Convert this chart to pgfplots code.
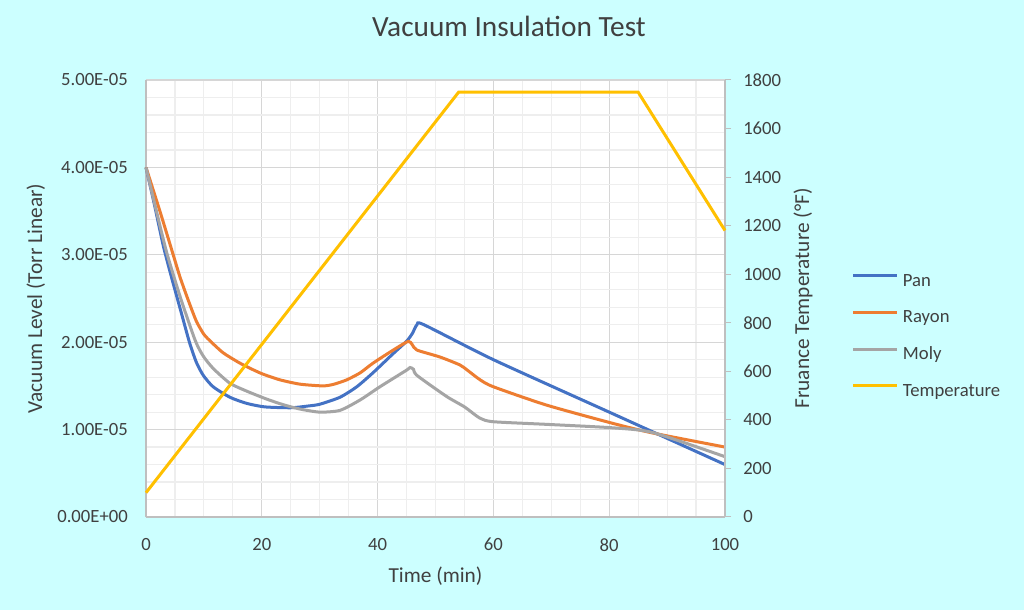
\documentclass[border=0pt]{standalone}
\usepackage{fontspec}
\setmainfont{Carlito}
\usepackage{pgfplots}
\pgfplotsset{compat=1.18}
\definecolor{bg}{RGB}{204,255,255}
\definecolor{pan}{RGB}{68,114,196}
\definecolor{rayon}{RGB}{237,125,49}
\definecolor{moly}{RGB}{165,165,165}
\definecolor{temp}{RGB}{255,192,0}
\definecolor{txt}{RGB}{64,64,64}
\definecolor{gmaj}{RGB}{214,214,214}
\definecolor{gmin}{RGB}{238,238,238}
\definecolor{axisgray}{RGB}{191,191,191}
\pgfplotsset{
  panstyle/.style={color=pan, line width=2.25pt, smooth, tension=0.4},
  rayonstyle/.style={color=rayon, line width=2.25pt, smooth, tension=0.4},
  molystyle/.style={color=moly, line width=2.25pt, smooth, tension=0.4},
  tempstyle/.style={color=temp, line width=2.25pt},
}
\begin{document}
\begin{tikzpicture}
\path[use as bounding box, fill=bg] (-109.5pt,-69.75pt) rectangle (658.5pt,387.75pt);
\begin{axis}[
  at={(0,0)}, anchor=south west,
  scale only axis, width=434.25pt, height=327.75pt,
  axis background/.style={fill=white},
  xmin=0, xmax=100, ymin=0, ymax=5e-5,
  axis x line*=bottom, axis y line*=left,
  axis line style={color=axisgray, line width=1pt, -},
  xtick={0,20,40,60,80,100},
  minor x tick num=3,
  ytick={0,1e-5,2e-5,3e-5,4e-5,5e-5},
  yticklabels={0.00E+00,1.00E-05,2.00E-05,3.00E-05,4.00E-05,5.00E-05},
  minor y tick num=4,
  grid=both,
  major grid style={color=gmaj, line width=0.9pt},
  minor grid style={color=gmin, line width=0.9pt},
  major tick length=0pt, minor tick length=0pt,
  scaled y ticks=false,
  /pgf/number format/assume math mode=true,
  tick label style={font=\fontsize{14}{16}\selectfont, text=txt},
  yticklabel style={anchor=east, inner sep=0pt, xshift=-13.5pt},
  xticklabel style={anchor=north, inner sep=0pt, yshift=-15.75pt},
  xlabel={Time (min)},
  ylabel={Vacuum Level (Torr Linear)},
  label style={font=\fontsize{16}{19}\selectfont, text=txt},
  xlabel style={at={(axis description cs:0.5,-0.14874)}, anchor=base, inner sep=0pt},
  ylabel style={at={(axis description cs:-0.1796,0.5)}, rotate=0, anchor=base, inner sep=0pt},
  title={Vacuum Insulation Test},
  title style={at={(axis description cs:0.627,1.0818)}, anchor=base, inner sep=0pt, font=\fontsize{22}{26}\selectfont, text=txt},
  clip=false,
]
\addplot[panstyle] coordinates {
(0,4.00e-5) (1.5,3.56e-5) (3.0,3.10e-5) (4.5,2.72e-5) (6.0,2.36e-5) (7.5,2.00e-5)
(8.7,1.77e-5) (9.9,1.62e-5) (11.6,1.49e-5) (14.5,1.37e-5) (17.4,1.30e-5)
(20.5,1.26e-5) (25,1.25e-5) (28,1.27e-5) (30,1.29e-5) (33.5,1.37e-5) (36.4,1.49e-5)
(39.2,1.65e-5) (42.7,1.87e-5) (45,2.01e-5) (46,2.10e-5) (46.8,2.20e-5) (48,2.20e-5)
(60,1.80e-5) (80,1.20e-5) (100,0.60e-5)
};
\addplot[rayonstyle] coordinates {
(0,4.00e-5) (2.4,3.50e-5) (4.7,3.00e-5) (5.9,2.74e-5) (7.3,2.48e-5) (8.7,2.24e-5)
(10,2.09e-5) (11.3,2.00e-5) (13.3,1.88e-5) (15.7,1.78e-5) (17.4,1.72e-5) (20,1.64e-5) (23.1,1.57e-5)
(26.6,1.52e-5) (30.6,1.50e-5)
(32.5,1.52e-5) (34.7,1.57e-5) (37,1.65e-5) (39.2,1.76e-5) (42.7,1.91e-5) (45.3,2.01e-5)
(46,1.97e-5) (46.8,1.91e-5) (50.8,1.83e-5) (54.2,1.74e-5) (55.5,1.68e-5) (57.7,1.57e-5)
(60,1.49e-5) (69.2,1.28e-5) (80.7,1.07e-5) (87.6,0.96e-5) (100,0.80e-5)
};
\addplot[molystyle] coordinates {
(0,4.00e-5) (1.8,3.50e-5) (3.6,3.02e-5) (6.0,2.50e-5) (8.5,2.02e-5) (9.9,1.84e-5)
(11.6,1.70e-5) (14.5,1.53e-5) (17.4,1.44e-5) (20.8,1.35e-5) (23.7,1.285e-5) (26.6,1.235e-5)
(30,1.20e-5) (33.5,1.22e-5) (37,1.34e-5) (40.4,1.49e-5) (45,1.68e-5) (45.6,1.71e-5)
(46.2,1.69e-5) (46.8,1.62e-5) (51.9,1.38e-5) (55,1.26e-5) (57.7,1.13e-5) (60,1.09e-5)
(69.2,1.06e-5) (80.7,1.02e-5) (87.6,0.965e-5) (100,0.69e-5)
};
\end{axis}
\begin{axis}[
  at={(0,0)}, anchor=south west,
  scale only axis, width=434.25pt, height=327.75pt,
  xmin=0, xmax=100, ymin=0, ymax=1800,
  axis x line=none, axis y line*=right,
  axis line style={color=axisgray, line width=1pt, -},
  ytick={0,200,400,600,800,1000,1200,1400,1600,1800},
  tick align=outside, major tick length=4.5pt,
  tick style={color=axisgray, line width=0.75pt},
  /pgf/number format/1000 sep={},
  /pgf/number format/assume math mode=true,
  tick label style={font=\fontsize{14}{16}\selectfont, text=txt},
  yticklabel style={anchor=west, inner sep=0pt, xshift=9pt},
  ylabel={Fruance Temperature (°F)},
  label style={font=\fontsize{16}{19}\selectfont, text=txt},
  ylabel style={at={(axis description cs:1.14508,0.5)}, rotate=0, anchor=base, inner sep=0pt},
  clip=false,
  legend cell align=left,
  legend style={at={(axis description cs:1.2188,0.559)}, anchor=north west, draw=none, fill=none,
    font=\fontsize{14}{16}\selectfont, text=txt, row sep=14pt, inner sep=0pt,
    nodes={inner sep=0pt, text height=10pt, text depth=3.5pt}},
  legend image code/.code={\draw[#1] (0pt,4.5pt) -- (33pt,4.5pt); \path (0pt,0pt) (36pt,0pt);},
]
\addlegendimage{color=pan, line width=2.25pt}
\addlegendentry{Pan}
\addlegendimage{color=rayon, line width=2.25pt}
\addlegendentry{Rayon}
\addlegendimage{color=moly, line width=2.25pt}
\addlegendentry{Moly}
\addplot[tempstyle] coordinates {(0,100) (54,1750) (85,1750) (100,1180)};
\addlegendentry{Temperature}
\end{axis}
\end{tikzpicture}
\end{document}
